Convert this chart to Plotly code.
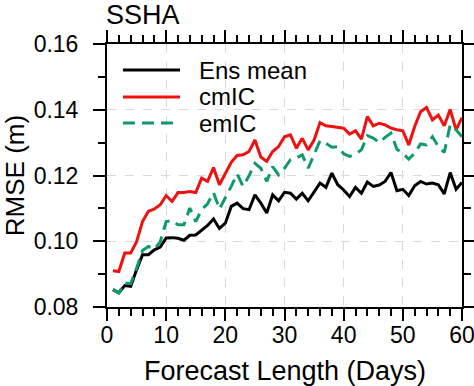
import plotly.graph_objects as go

days = list(range(1, 61))

ens_mean = [0.0853, 0.0843, 0.0865, 0.0863, 0.0913, 0.0959, 0.0959, 0.0974, 0.0982, 0.1010,
            0.1011, 0.1009, 0.1003, 0.1018, 0.1019, 0.1035, 0.1048, 0.1068, 0.1039, 0.1055,
            0.1106, 0.1116, 0.1099, 0.1096, 0.1141, 0.1116, 0.1086, 0.1141, 0.1123, 0.1149,
            0.1146, 0.1128, 0.1146, 0.1123, 0.1151, 0.1177, 0.1164, 0.1207, 0.1172, 0.1156,
            0.1136, 0.1164, 0.1146, 0.1180, 0.1167, 0.1171, 0.1182, 0.1209, 0.1154, 0.1158,
            0.1139, 0.1169, 0.1182, 0.1174, 0.1177, 0.1172, 0.1144, 0.1209, 0.1158, 0.1179]

cmic = [0.0910, 0.0908, 0.0964, 0.0964, 0.0999, 0.1060, 0.1091, 0.1098, 0.1111, 0.1139,
        0.1121, 0.1148, 0.1148, 0.1151, 0.1148, 0.1192, 0.1182, 0.1224, 0.1172, 0.1207,
        0.1240, 0.1261, 0.1263, 0.1273, 0.1308, 0.1256, 0.1243, 0.1273, 0.1288, 0.1318,
        0.1324, 0.1283, 0.1313, 0.1278, 0.1308, 0.1361, 0.1351, 0.1349, 0.1347, 0.1344,
        0.1326, 0.1336, 0.1311, 0.1379, 0.1351, 0.1359, 0.1354, 0.1344, 0.1339, 0.1336,
        0.1293, 0.1349, 0.1394, 0.1407, 0.1369, 0.1384, 0.1351, 0.1401, 0.1339, 0.1376]

emic = [0.0853, 0.0843, 0.0873, 0.0871, 0.0918, 0.0972, 0.0984, 0.0976, 0.0999, 0.1060,
        0.1063, 0.1050, 0.1050, 0.1101, 0.1060, 0.1096, 0.1114, 0.1148, 0.1098, 0.1131,
        0.1167, 0.1205, 0.1167, 0.1199, 0.1237, 0.1222, 0.1182, 0.1227, 0.1202, 0.1222,
        0.1248, 0.1253, 0.1263, 0.1222, 0.1262, 0.1306, 0.1298, 0.1286, 0.1288, 0.1266,
        0.1258, 0.1265, 0.1278, 0.1321, 0.1314, 0.1300, 0.1316, 0.1329, 0.1280, 0.1268,
        0.1250, 0.1268, 0.1296, 0.1293, 0.1318, 0.1288, 0.1270, 0.1354, 0.1339, 0.1318]

series_names = ["Ens mean", "cmIC", "emIC"]
x_ticks = [0, 10, 20, 30, 40, 50, 60]
y_ticks = [0.08, 0.10, 0.12, 0.14, 0.16]
y_tick_labels = ["0.08", "0.10", "0.12", "0.14", "0.16"]

FONT = "Liberation Sans, Arial, sans-serif"
styles = [
    dict(color="black", width=3),
    dict(color="#f01010", width=3),
    dict(color="#0f9a6c", width=3, dash="12px,7px"),
]

fig = go.Figure()
for name, ys, st in zip(series_names, [ens_mean, cmic, emic], styles):
    fig.add_trace(go.Scatter(x=days, y=ys, mode="lines", name=name, line=st, showlegend=False))

# Legend drawn in the plot area (paper coordinates)
leg_y = [0.901, 0.7985, 0.6996]
for name, st, yy in zip(series_names, styles, leg_y):
    fig.add_shape(type="line", xref="paper", yref="paper", x0=0.045, x1=0.2056, y0=yy, y1=yy,
                  line=st)
    fig.add_annotation(xref="paper", yref="paper", x=0.2535, y=yy, xanchor="left", yanchor="middle",
                       text=name, showarrow=False, font=dict(family=FONT, size=24, color="black"))

# Panel title and x-axis title as annotations
fig.add_annotation(xref="paper", yref="paper", x=0, y=1 + (44 - 15) / 263, xanchor="left",
                   yanchor="middle", text="SSHA", showarrow=False, xshift=-3,
                   font=dict(family=FONT, size=27, color="black"))
fig.add_annotation(xref="paper", yref="paper", x=0.5, y=-(371 - 307) / 263, xanchor="center",
                   yanchor="middle", text="Forecast Length (Days)", showarrow=False,
                   font=dict(family=FONT, size=27, color="black"))

axis_common = dict(
    showline=True, linecolor="black", linewidth=2, mirror="ticks",
    ticks="outside", ticklen=12, tickwidth=2, tickcolor="black",
    showgrid=True, gridcolor="#d9d9d9", griddash="dash", gridwidth=1,
    zeroline=False, ticklabeloverflow="allow",
    tickfont=dict(family=FONT, size=23, color="black"),
)

fig.update_xaxes(**axis_common, range=[0, 60], tickvals=x_ticks, ticklabelstandoff=-6,
                 minor=dict(dtick=2, ticklen=7, tickwidth=2, tickcolor="black", ticks="outside", showgrid=False))
fig.update_yaxes(**axis_common, range=[0.08, 0.16], tickvals=y_ticks, ticktext=y_tick_labels,
                 ticklabelstandoff=10,
                 minor=dict(dtick=0.01, ticklen=7, tickwidth=2, tickcolor="black", ticks="outside", showgrid=False),
                 title=dict(text="RMSE (m)", font=dict(family=FONT, size=26, color="black"), standoff=8))

fig.update_layout(
    width=474, height=386,
    margin=dict(l=107, r=12, t=44, b=79, autoexpand=False),
    paper_bgcolor="white", plot_bgcolor="white",
    showlegend=False,
)

fig.write_html("out.html", post_script="document.body.style.margin='0px';",
               config={"displayModeBar": False})
